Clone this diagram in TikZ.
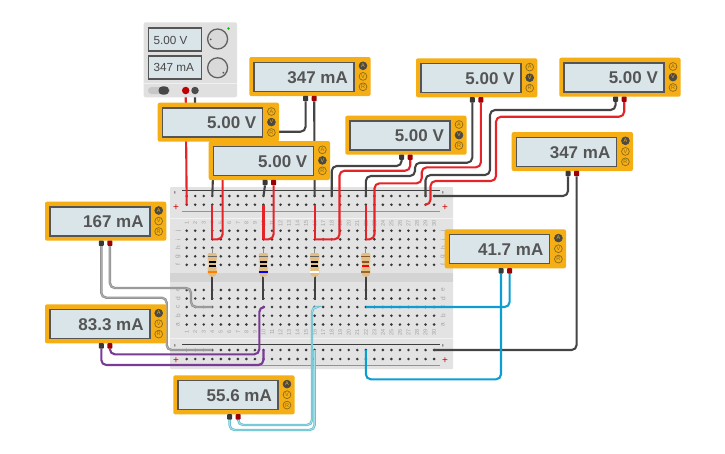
\documentclass[tikz,border=0pt]{standalone}
\usepackage{fontspec}
\setmainfont{Liberation Sans}
\usetikzlibrary{calc}
\definecolor{amber}{HTML}{F5AE14}
\definecolor{lcd}{HTML}{DAE5EA}
\definecolor{ink}{HTML}{555555}
\definecolor{wred}{HTML}{E5242A}
\definecolor{wdark}{HTML}{444444}
\definecolor{wblue}{HTML}{0B9ED3}
\definecolor{wpurple}{HTML}{7B3A96}
\definecolor{tealedge}{HTML}{62BFCE}
\definecolor{tealcore}{HTML}{A6DEE6}
\definecolor{tan}{HTML}{E3BE82}
\definecolor{btnline}{HTML}{8A6A1A}
\definecolor{btndark}{HTML}{4A4A44}
\pgfdeclarelayer{board}
\pgfdeclarelayer{wires}
\pgfsetlayers{board,wires,main}
\tikzset{
    meter/.style = { fill=amber, rounded corners=2pt, inner sep=0pt,
        minimum width=121.3pt, minimum height=39pt },
    lcdbox/.style = { draw=ink, line width=1.4pt, fill=lcd, inner sep=0pt,
        minimum width=100pt, minimum height=29pt },
    reading/.style = { font=\fontsize{17}{20}\selectfont\bfseries, text=ink,
        inner sep=0pt, anchor=base east },
    btn/.style = { circle, draw=btnline, line width=.7pt, fill=amber, inner sep=0pt,
        minimum size=7.8pt, font=\fontsize{5.5}{5.5}\selectfont, text=btnline },
    btnon/.style = { btn, draw=btndark, fill=btndark, text=amber },
    mode A/.style = { btnA/.style=btnon, btnV/.style=btn },
    mode V/.style = { btnA/.style=btn, btnV/.style=btnon },
    term/.style = { inner sep=0pt, minimum width=5pt, minimum height=5.4pt,
        rounded corners=.8pt },
    blackterm/.style = { term, fill=black!78 },
    redterm/.style = { term, fill=red!62!black },
    hole/.style = { fill=black!78 },
    wire/.style = { line width=2.1pt, rounded corners=5pt, line join=round },
    wdk/.style = { wire, draw=wdark },
    wrd/.style = { wire, draw=wred },
    wbl/.style = { wire, draw=wblue },
    wpu/.style = { wire, draw=wpurple },
    wgr/.style = { rounded corners=5pt, draw=black!43, double=black!32, line width=.75pt, double distance=.9pt },
    wte/.style = { rounded corners=5pt, draw=tealedge, double=tealcore, line width=.75pt, double distance=.9pt },
    tiny/.style = { font=\fontsize{5.5}{6}\selectfont, text=black!36, inner sep=0pt, rotate=90 },
    pm/.style = { font=\fontsize{10}{10}\selectfont, text=red!80!black, inner sep=0pt },
    mn/.style = { font=\fontsize{10}{10}\selectfont, text=black!75, inner sep=0pt, rotate=90 },
    psulcd/.style = { draw=ink, line width=1.7pt, fill=lcd, inner sep=0pt },
    psutext/.style = { font=\fontsize{11.7}{14}\selectfont, text=black!72, inner sep=0pt, anchor=base west },
    knob/.style = { circle, draw=black!62, line width=1.3pt, fill=black!15, inner sep=0pt, minimum size=20pt }
}
% name, left, top, reading, active mode
\newcommand{\meter}[5]{
    \begin{scope}[shift={(#2,#3)}, mode #5]
        \node[meter] (#1) at (60.65,19.5) {};
        \node[lcdbox] (#1-s) at (54.8,19.8) {};
        \node[reading] (#1-t) at (98.8,26) {#4};
        \node[btnA] (#1-a) at (113.7,8.8) {A};
        \node[btnV] (#1-v) at (113.7,19.4) {V};
        \node[btn] (#1-o) at (113.7,29.8) {R};
        \node[blackterm] (#1-b) at (56.3,41.5) {};
        \node[redterm] (#1-r) at (64.9,41.5) {};
    \end{scope}
}
% column, band colours
\newcommand{\resistor}[5]{
    \draw[black!45, line width=1.3pt] (h-#1) -- ($(h-#1)+(0,6)$);
    \draw[black!75, line width=2pt] ($(d-#1)+(0,-22.5)$) -- ($(d-#1)+(0,1)$);
    \begin{scope}[shift={($(h-#1)+(0,5)$)}]
        \fill[tan, rounded corners=2pt] (-4.6,0.2) -- (4.6,0.2) -- (4.6,8) -- (3.5,9) -- (3.5,15) -- (4.6,16)
            -- (4.6,22) -- (1.5,24.2) -- (-1.5,24.2) -- (-4.6,22) -- (-4.6,16) -- (-3.5,15) -- (-3.5,9) -- (-4.6,8) -- cycle;
        \fill[#2] (-4.4,3.2) rectangle (4.4,4.4);
        \fill[#3] (-3.6,8.6) rectangle (3.6,10);
        \fill[#4] (-3.6,12.4) rectangle (3.6,13.8);
        \fill[#5] (-4.5,18) rectangle (4.5,20);
    \end{scope}
}
\begin{document}
\begin{tikzpicture}[x=1pt, y=-1pt]
    \useasboundingbox (0,0) rectangle (725,453);

    % breadboard
    \begin{pgfonlayer}{board}
        \fill[black!11, rounded corners=1pt] (170,187) rectangle (453,369);
        \fill[black!17] (170,273) rectangle (453,282);
        \draw[black!5, line width=.8pt] (170,218) -- (453,218) (170,338) -- (453,338);
        \draw[black!75, line width=.8pt] (182,190.7) -- (440,190.7) (182,344) -- (440,344);
        \draw[red!50!black!50!white, line width=1pt] (182,211) -- (440,211) (182,365) -- (440,365);
        \node[mn] (n1) at (176,192.5) {-};
        \node[mn] (n2) at (444,192.5) {-};
        \node[mn] (n3) at (176,346) {-};
        \node[mn] (n4) at (444,346) {-};
        \node[pm] (p1) at (176,208) {+};
        \node[pm] (p2) at (445,208) {+};
        \node[pm] (p3) at (176,361) {+};
        \node[pm] (p4) at (445,361) {+};
        \foreach \c in {1,...,30} {
            \pgfmathsetmacro{\xc}{186.7+8.53*(\c-1)}
            \foreach \r/\yy in {tn/196,tp/204.7,j/230.7,i/239.3,h/247.8,g/256.3,f/264.8,e/290,d/298.5,c/307,b/315.7,a/324.5,bn/350,bp/359} {
                \coordinate (\r-\c) at (\xc,\yy);
                \fill[hole] (\r-\c) circle (1.45pt);
            }
            \node[tiny] (ct-\c) at (\xc,223) {\c};
            \node[tiny] (cb-\c) at (\xc,332) {\c};
        }
        \foreach \r/\yy in {j/230.7,i/239.3,h/247.8,g/256.3,f/264.8,e/290,d/298.5,c/307,b/315.7,a/324.5} {
            \node[tiny, font=\fontsize{6.5}{7}\selectfont] (ll-\r) at (178,\yy) {\r};
            \node[tiny, font=\fontsize{6.5}{7}\selectfont] (lr-\r) at (443,\yy) {\r};
        }
        \resistor{4}{black!60}{black}{black}{orange}
        \resistor{10}{black!60}{black}{black}{blue}
        \resistor{16}{black!60}{black}{black}{white}
        \resistor{22}{brown!70!black}{brown!70!black}{red}{brown!80!black}
    \end{pgfonlayer}

    % power supply
    \fill[black!12, rounded corners=2pt] (143.7,22.3) rectangle (237,97.3);
    \draw[black!6, line width=.8pt] (143.7,83.3) -- (237,83.3);
    \node[psulcd, minimum width=53pt, minimum height=23.5pt] (psu-u) at (175,39.5) {};
    \node[psulcd, minimum width=53pt, minimum height=23pt] (psu-i) at (175,67.5) {};
    \node[psutext] (psu-ut) at (153.3,44) {5.00 V};
    \node[psutext] (psu-it) at (153.3,71.7) {347 mA};
    \node[knob] (k1) at (217.6,39) {};
    \node[knob] (k2) at (217.6,67.8) {};
    \fill[black!65] (210.7,39.3) circle (1pt) (223.3,72.7) circle (1pt);
    \fill[green!80!black] (228.5,28.5) circle (1.4pt);
    \fill[black!22, rounded corners=3.5pt] (148,87) rectangle (170,94);
    \fill[black!72, rounded corners=4pt] (158.5,86.3) rectangle (169,94.7);
    \node[circle, fill=red!75!black, inner sep=0pt, minimum size=7.5pt] (psu-r) at (185.7,90.5) {};
    \node[circle, fill=black!70, inner sep=0pt, minimum size=7.5pt] (psu-b) at (195,90.5) {};

    % meters, later ones on top of earlier ones
    \meter{m1}{249.3}{57}{347 mA}{A}
    \meter{m2}{157.7}{102.7}{5.00 V}{V}
    \meter{m3}{208.7}{141}{5.00 V}{V}
    \meter{m4}{345.3}{115.7}{5.00 V}{V}
    \meter{m5}{416}{58.3}{5.00 V}{V}
    \meter{m6}{559.3}{57.7}{5.00 V}{V}
    \meter{m7}{511.7}{132}{347 mA}{A}
    \meter{m8}{45}{201.7}{167 mA}{A}
    \meter{m9}{45}{304.3}{83.3 mA}{A}
    \meter{m10}{173.3}{375.3}{55.6 mA}{A}
    \meter{m11}{444.7}{229.3}{41.7 mA}{A}

    % wires
    \begin{pgfonlayer}{wires}
        \draw[wrd] (psu-r.center) -- (tp-1);
        \draw[wdk] (psu-b.center) |- (250,131.7) -| (m1-b.south);
        \draw[wdk] (m1-r.south) -- (tn-16);
        \draw[wdk] (m2-b.south) -- (tn-4);
        \draw[wrd] (m2-r.south) |- (i-4);
        \draw[wdk] (m3-b.south) -- (tn-10);
        \draw[wrd] (m3-r.south) |- (i-10);
        \draw[wdk] (m4-b.south) |- (tn-18 |- 0,166) -- (tn-18);
        \draw[wrd] (m4-r.south) |- (339.5,170.7) |- (i-16);
        \draw[wdk] (m5-b.south) |- (415,162.7) |- (tn-22 |- 0,176) -- (tn-22);
        \draw[wrd] (m5-r.south) |- (421.7,167.3) |- (374.5,183.3) |- (i-22);
        \draw[wdk] (m6-b.south) |- (490,110) |- (tn-29 |- 0,175) -- (tn-29);
        \draw[wrd] (m6-r.south) |- (496,116.7) |- (430.5,181) |- (tp-29);
        \draw[wdk] (m7-b.south) |- (tn-30);
        \draw[wdk] (m7-r.south) |- (bn-30);
        \draw[wrd] (tp-4) -- (i-4);
        \draw[wrd] (tp-10) -- (i-10);
        \draw[wrd] (tp-16) -- (i-16);
        \draw[wrd] (tp-22) -- (i-22);
        \draw[wgr] (m8-b.south) |- (166.7,297.7) |- (bn-4);
        \draw[wgr] (m8-r.south) |- (191,288) |- (c-4);
        \draw[wpu] (m9-b.south) |- (bn-10 |- 0,365) -- (bn-10);
        \draw[wpu] (m9-r.south) |- (259.3,354.3) |- (c-10);
        \draw[wte] (m10-b.south) |- (bn-16 |- 0,430) -- (bn-16);
        \draw[wte] (m10-r.south) |- (312,425) |- (c-16);
        \draw[wbl] (m11-b.south) |- (bn-22 |- 0,379.3) -- (bn-22);
        \draw[wbl] (m11-r.south) |- (c-22);
    \end{pgfonlayer}
\end{tikzpicture}
\end{document}
